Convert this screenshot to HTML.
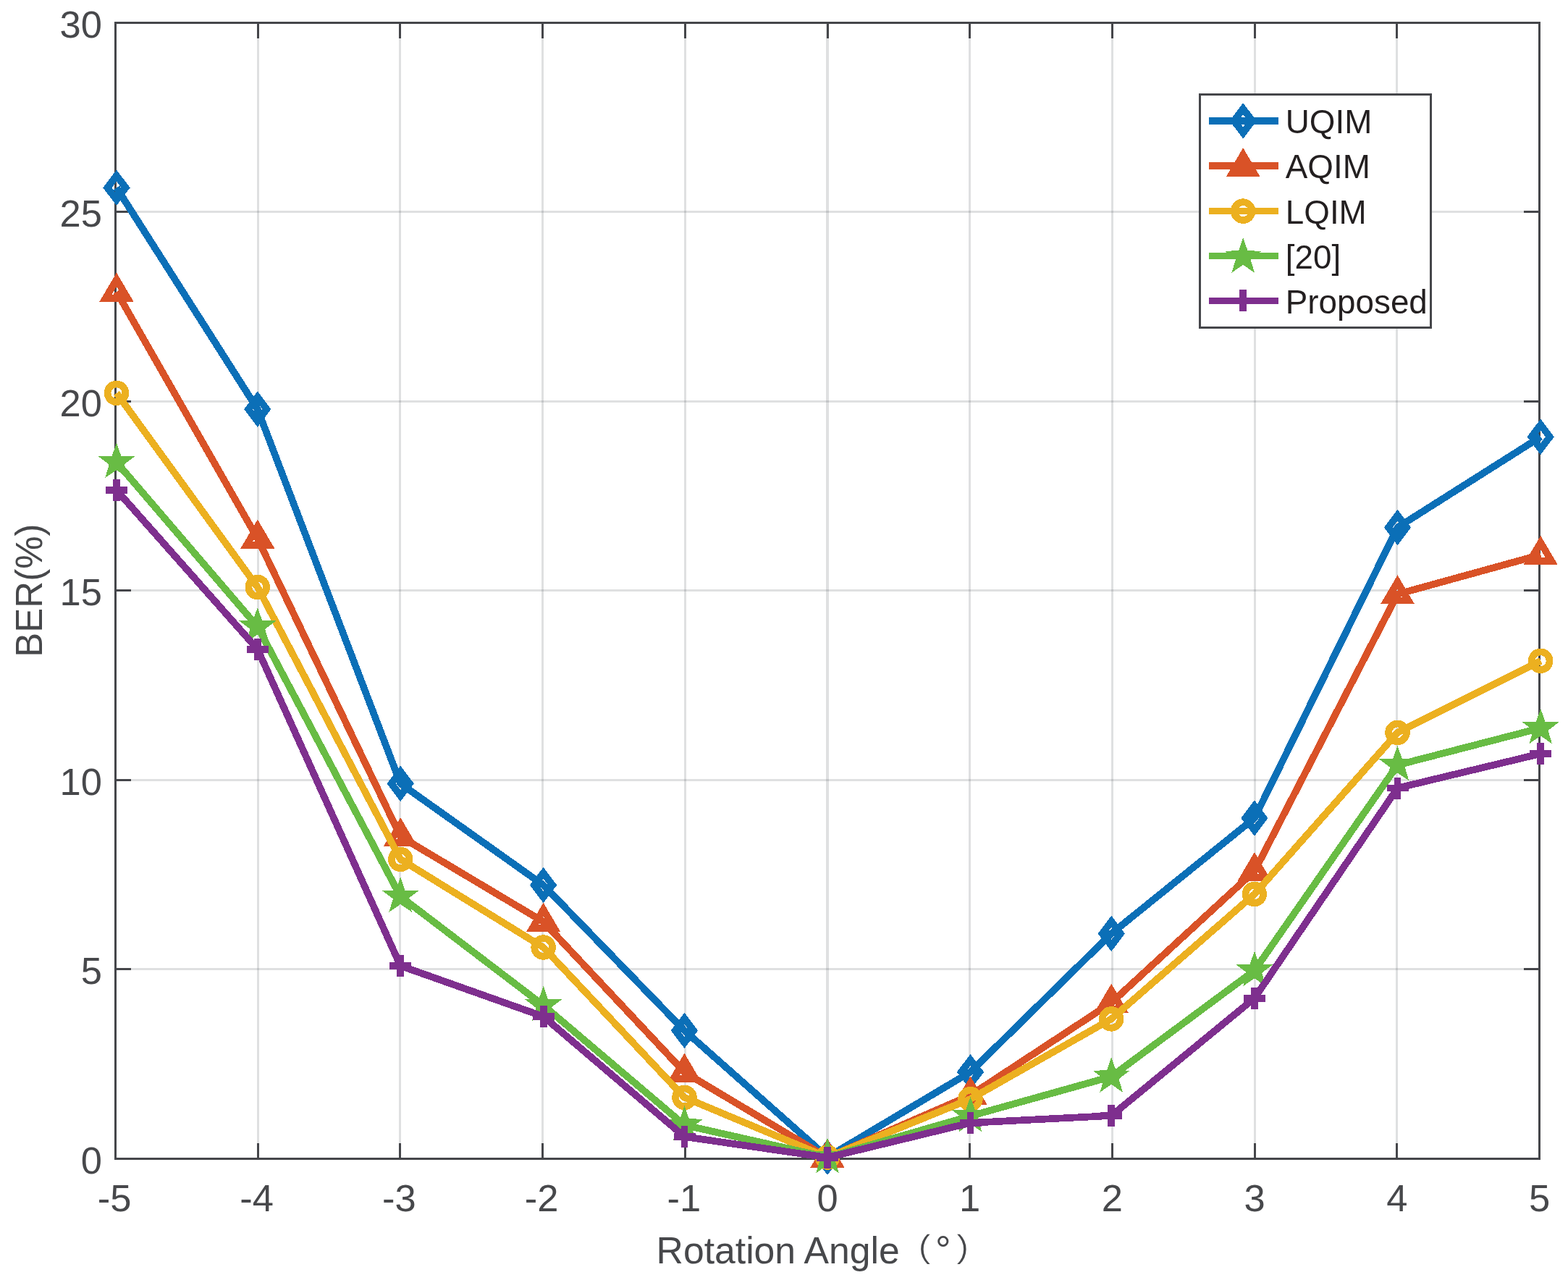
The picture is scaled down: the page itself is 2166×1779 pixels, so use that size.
<!DOCTYPE html>
<html><head><meta charset="utf-8"><title>BER vs Rotation Angle</title>
<style>
html,body{margin:0;padding:0;background:#fff;}
body{width:2166px;height:1779px;overflow:hidden;}
svg{display:block;font-family:"Liberation Sans","Noto Sans CJK SC",sans-serif;}
</style></head><body>
<svg width="2166" height="1779" viewBox="0 0 2166 1779">
<rect width="2166" height="1779" fill="#ffffff"/>
<path d="M356.5,33.0V1599.0M552.5,33.0V1599.0M749.5,33.0V1599.0M946.5,33.0V1599.0M1339.5,33.0V1599.0M1536.5,33.0V1599.0M1733.5,33.0V1599.0M1929.5,33.0V1599.0" stroke="#1f232b" stroke-opacity="0.14" stroke-width="3" fill="none" shape-rendering="crispEdges"/>
<path d="M1143,33.0V1599.0" stroke="#1f232b" stroke-opacity="0.14" stroke-width="4" fill="none" shape-rendering="crispEdges"/>
<path d="M161.0,1338.5H2125.0M161.0,1077.5H2125.0M161.0,815.5H2125.0M161.0,554.5H2125.0M161.0,292.5H2125.0" stroke="#1f232b" stroke-opacity="0.14" stroke-width="3" fill="none" shape-rendering="crispEdges"/>
<path d="M356.5,1600.5v-21.5M356.5,31.5v21.5M552.5,1600.5v-21.5M552.5,31.5v21.5M749.5,1600.5v-21.5M749.5,31.5v21.5M946.5,1600.5v-21.5M946.5,31.5v21.5M1143.5,1600.5v-21.5M1143.5,31.5v21.5M1339.5,1600.5v-21.5M1339.5,31.5v21.5M1536.5,1600.5v-21.5M1536.5,31.5v21.5M1733.5,1600.5v-21.5M1733.5,31.5v21.5M1929.5,1600.5v-21.5M1929.5,31.5v21.5M159.5,1338.5h21.5M2126.5,1338.5h-21.5M159.5,1077.5h21.5M2126.5,1077.5h-21.5M159.5,815.5h21.5M2126.5,815.5h-21.5M159.5,554.5h21.5M2126.5,554.5h-21.5M159.5,292.5h21.5M2126.5,292.5h-21.5" stroke="#45464a" stroke-width="3" fill="none" shape-rendering="crispEdges"/>
<rect x="159.5" y="31.5" width="1967.0" height="1569.0" fill="none" stroke="#45464a" stroke-width="3" shape-rendering="crispEdges"/>
<g stroke-linejoin="miter" shape-rendering="crispEdges">
<polyline points="161.0,259.3 355.8,565.2 553.2,1082.3 750.6,1222.5 945.5,1423.4 1143.0,1598.3 1340.5,1480.7 1535.2,1289.5 1732.9,1130.0 1930.5,728.5 2128.2,603.4" fill="none" stroke="#0b6fb7" stroke-width="9.7" stroke-linejoin="round"/>
<path d="M161.0,242.6L173.6,259.3L161.0,276.0L148.4,259.3Z" fill="none" stroke="#0b6fb7" stroke-width="9.7" stroke-miterlimit="10"/>
<path d="M355.8,548.5L368.4,565.2L355.8,581.9L343.2,565.2Z" fill="none" stroke="#0b6fb7" stroke-width="9.7" stroke-miterlimit="10"/>
<path d="M553.2,1065.6L565.8,1082.3L553.2,1099.0L540.6,1082.3Z" fill="none" stroke="#0b6fb7" stroke-width="9.7" stroke-miterlimit="10"/>
<path d="M750.6,1205.8L763.2,1222.5L750.6,1239.2L738.0,1222.5Z" fill="none" stroke="#0b6fb7" stroke-width="9.7" stroke-miterlimit="10"/>
<path d="M945.5,1406.7L958.1,1423.4L945.5,1440.1L932.9,1423.4Z" fill="none" stroke="#0b6fb7" stroke-width="9.7" stroke-miterlimit="10"/>
<path d="M1143.0,1581.6L1155.6,1598.3L1143.0,1615.0L1130.4,1598.3Z" fill="none" stroke="#0b6fb7" stroke-width="9.7" stroke-miterlimit="10"/>
<path d="M1340.5,1464.0L1353.1,1480.7L1340.5,1497.4L1327.9,1480.7Z" fill="none" stroke="#0b6fb7" stroke-width="9.7" stroke-miterlimit="10"/>
<path d="M1535.2,1272.8L1547.8,1289.5L1535.2,1306.2L1522.6,1289.5Z" fill="none" stroke="#0b6fb7" stroke-width="9.7" stroke-miterlimit="10"/>
<path d="M1732.9,1113.3L1745.5,1130.0L1732.9,1146.7L1720.3,1130.0Z" fill="none" stroke="#0b6fb7" stroke-width="9.7" stroke-miterlimit="10"/>
<path d="M1930.5,711.8L1943.1,728.5L1930.5,745.2L1917.9,728.5Z" fill="none" stroke="#0b6fb7" stroke-width="9.7" stroke-miterlimit="10"/>
<path d="M2128.2,586.7L2140.8,603.4L2128.2,620.1L2115.6,603.4Z" fill="none" stroke="#0b6fb7" stroke-width="9.7" stroke-miterlimit="10"/>
<polyline points="161.0,402.9 355.8,743.9 553.2,1155.4 750.6,1273.1 945.5,1481.0 1143.0,1598.9 1340.5,1512.8 1535.2,1385.0 1732.9,1203.3 1930.5,820.7 2128.2,766.2" fill="none" stroke="#d95227" stroke-width="9.7" stroke-linejoin="round"/>
<path d="M161.00,386.16L176.01,411.65L145.99,411.65Z" fill="none" stroke="#d95227" stroke-width="9.7" stroke-miterlimit="10"/>
<path d="M355.80,727.16L370.81,752.65L340.79,752.65Z" fill="none" stroke="#d95227" stroke-width="9.7" stroke-miterlimit="10"/>
<path d="M553.20,1138.66L568.21,1164.15L538.19,1164.15Z" fill="none" stroke="#d95227" stroke-width="9.7" stroke-miterlimit="10"/>
<path d="M750.60,1256.36L765.61,1281.85L735.59,1281.85Z" fill="none" stroke="#d95227" stroke-width="9.7" stroke-miterlimit="10"/>
<path d="M945.50,1464.26L960.51,1489.75L930.49,1489.75Z" fill="none" stroke="#d95227" stroke-width="9.7" stroke-miterlimit="10"/>
<path d="M1143.00,1582.16L1158.01,1607.65L1127.99,1607.65Z" fill="none" stroke="#d95227" stroke-width="9.7" stroke-miterlimit="10"/>
<path d="M1340.50,1496.06L1355.51,1521.55L1325.49,1521.55Z" fill="none" stroke="#d95227" stroke-width="9.7" stroke-miterlimit="10"/>
<path d="M1535.20,1368.26L1550.21,1393.75L1520.19,1393.75Z" fill="none" stroke="#d95227" stroke-width="9.7" stroke-miterlimit="10"/>
<path d="M1732.90,1186.56L1747.91,1212.05L1717.89,1212.05Z" fill="none" stroke="#d95227" stroke-width="9.7" stroke-miterlimit="10"/>
<path d="M1930.50,803.96L1945.51,829.45L1915.49,829.45Z" fill="none" stroke="#d95227" stroke-width="9.7" stroke-miterlimit="10"/>
<path d="M2128.20,749.46L2143.21,774.95L2113.19,774.95Z" fill="none" stroke="#d95227" stroke-width="9.7" stroke-miterlimit="10"/>
<polyline points="161.0,542.9 355.8,811.0 553.2,1186.9 750.6,1308.5 945.5,1515.8 1143.0,1598.5 1340.5,1518.0 1535.2,1407.4 1732.9,1235.0 1930.5,1011.9 2128.2,912.8" fill="none" stroke="#ecb020" stroke-width="9.7" stroke-linejoin="round"/>
<circle cx="161.0" cy="542.9" r="12.4" fill="none" stroke="#ecb020" stroke-width="9.7"/>
<circle cx="355.8" cy="811.0" r="12.4" fill="none" stroke="#ecb020" stroke-width="9.7"/>
<circle cx="553.2" cy="1186.9" r="12.4" fill="none" stroke="#ecb020" stroke-width="9.7"/>
<circle cx="750.6" cy="1308.5" r="12.4" fill="none" stroke="#ecb020" stroke-width="9.7"/>
<circle cx="945.5" cy="1515.8" r="12.4" fill="none" stroke="#ecb020" stroke-width="9.7"/>
<circle cx="1143.0" cy="1598.5" r="12.4" fill="none" stroke="#ecb020" stroke-width="9.7"/>
<circle cx="1340.5" cy="1518.0" r="12.4" fill="none" stroke="#ecb020" stroke-width="9.7"/>
<circle cx="1535.2" cy="1407.4" r="12.4" fill="none" stroke="#ecb020" stroke-width="9.7"/>
<circle cx="1732.9" cy="1235.0" r="12.4" fill="none" stroke="#ecb020" stroke-width="9.7"/>
<circle cx="1930.5" cy="1011.9" r="12.4" fill="none" stroke="#ecb020" stroke-width="9.7"/>
<circle cx="2128.2" cy="912.8" r="12.4" fill="none" stroke="#ecb020" stroke-width="9.7"/>
<polyline points="161.0,638.4 355.8,865.7 553.2,1238.2 750.6,1388.6 945.5,1554.0 1143.0,1598.5 1340.5,1541.5 1535.2,1487.0 1732.9,1340.5 1930.5,1056.7 2128.2,1005.6" fill="none" stroke="#68bc44" stroke-width="9.7" stroke-linejoin="round"/>
<polygon points="161.0,611.6 167.3,629.7 186.5,630.1 171.3,641.7 176.8,660.1 161.0,649.2 145.2,660.1 150.7,641.7 135.5,630.1 154.7,629.7" fill="#68bc44"/>
<polygon points="355.8,838.9 362.1,857.0 381.3,857.4 366.1,869.0 371.6,887.4 355.8,876.5 340.0,887.4 345.5,869.0 330.3,857.4 349.5,857.0" fill="#68bc44"/>
<polygon points="553.2,1211.4 559.5,1229.5 578.7,1229.9 563.5,1241.5 569.0,1259.9 553.2,1249.0 537.4,1259.9 542.9,1241.5 527.7,1229.9 546.9,1229.5" fill="#68bc44"/>
<polygon points="750.6,1361.8 756.9,1379.9 776.1,1380.3 760.9,1391.9 766.4,1410.3 750.6,1399.4 734.8,1410.3 740.3,1391.9 725.1,1380.3 744.3,1379.9" fill="#68bc44"/>
<polygon points="945.5,1527.2 951.8,1545.3 971.0,1545.7 955.8,1557.3 961.3,1575.7 945.5,1564.8 929.7,1575.7 935.2,1557.3 920.0,1545.7 939.2,1545.3" fill="#68bc44"/>
<polygon points="1143.0,1571.7 1149.3,1589.8 1168.5,1590.2 1153.3,1601.8 1158.8,1620.2 1143.0,1609.3 1127.2,1620.2 1132.7,1601.8 1117.5,1590.2 1136.7,1589.8" fill="#68bc44"/>
<polygon points="1340.5,1514.7 1346.8,1532.8 1366.0,1533.2 1350.8,1544.8 1356.3,1563.2 1340.5,1552.3 1324.7,1563.2 1330.2,1544.8 1315.0,1533.2 1334.2,1532.8" fill="#68bc44"/>
<polygon points="1535.2,1460.2 1541.5,1478.3 1560.7,1478.7 1545.5,1490.3 1551.0,1508.7 1535.2,1497.8 1519.4,1508.7 1524.9,1490.3 1509.7,1478.7 1528.9,1478.3" fill="#68bc44"/>
<polygon points="1732.9,1313.7 1739.2,1331.8 1758.4,1332.2 1743.2,1343.8 1748.7,1362.2 1732.9,1351.3 1717.1,1362.2 1722.6,1343.8 1707.4,1332.2 1726.6,1331.8" fill="#68bc44"/>
<polygon points="1930.5,1029.9 1936.8,1048.0 1956.0,1048.4 1940.8,1060.0 1946.3,1078.4 1930.5,1067.5 1914.7,1078.4 1920.2,1060.0 1905.0,1048.4 1924.2,1048.0" fill="#68bc44"/>
<polygon points="2128.2,978.8 2134.5,996.9 2153.7,997.3 2138.5,1008.9 2144.0,1027.3 2128.2,1016.4 2112.4,1027.3 2117.9,1008.9 2102.7,997.3 2121.9,996.9" fill="#68bc44"/>
<polyline points="161.0,677.0 355.8,896.8 553.2,1334.0 750.6,1404.0 945.5,1570.0 1143.0,1598.8 1340.5,1550.9 1535.2,1541.0 1732.9,1378.7 1930.5,1088.5 2128.2,1041.0" fill="none" stroke="#7e2f8e" stroke-width="9.7" stroke-linejoin="round"/>
<path d="M146.0,672.1h30.0v9.7h-30.0zM156.2,662.0h9.7v30.0h-9.7z" fill="#7e2f8e"/>
<path d="M340.8,891.9h30.0v9.7h-30.0zM350.9,881.8h9.7v30.0h-9.7z" fill="#7e2f8e"/>
<path d="M538.2,1329.2h30.0v9.7h-30.0zM548.4,1319.0h9.7v30.0h-9.7z" fill="#7e2f8e"/>
<path d="M735.6,1399.2h30.0v9.7h-30.0zM745.8,1389.0h9.7v30.0h-9.7z" fill="#7e2f8e"/>
<path d="M930.5,1565.2h30.0v9.7h-30.0zM940.6,1555.0h9.7v30.0h-9.7z" fill="#7e2f8e"/>
<path d="M1128.0,1594.0h30.0v9.7h-30.0zM1138.2,1583.8h9.7v30.0h-9.7z" fill="#7e2f8e"/>
<path d="M1325.5,1546.1h30.0v9.7h-30.0zM1335.7,1535.9h9.7v30.0h-9.7z" fill="#7e2f8e"/>
<path d="M1520.2,1536.2h30.0v9.7h-30.0zM1530.4,1526.0h9.7v30.0h-9.7z" fill="#7e2f8e"/>
<path d="M1717.9,1373.9h30.0v9.7h-30.0zM1728.1,1363.7h9.7v30.0h-9.7z" fill="#7e2f8e"/>
<path d="M1915.5,1083.7h30.0v9.7h-30.0zM1925.7,1073.5h9.7v30.0h-9.7z" fill="#7e2f8e"/>
<path d="M2113.2,1036.2h30.0v9.7h-30.0zM2123.3,1026.0h9.7v30.0h-9.7z" fill="#7e2f8e"/>
</g>
<rect x="1657.5" y="130.5" width="319" height="322" fill="#ffffff" stroke="#45464a" stroke-width="3" shape-rendering="crispEdges"/>
<line x1="1670" y1="166.9" x2="1766" y2="166.9" stroke="#0b6fb7" stroke-width="9.7" shape-rendering="crispEdges"/>
<path d="M1717.2,150.2L1729.8,166.9L1717.2,183.6L1704.6,166.9Z" fill="none" stroke="#0b6fb7" stroke-width="9.7" stroke-miterlimit="10" shape-rendering="crispEdges"/>
<text x="1775.8" y="184.3" font-size="45.8" fill="#231f20">UQIM</text>
<line x1="1670" y1="229.0" x2="1766" y2="229.0" stroke="#d95227" stroke-width="9.7" shape-rendering="crispEdges"/>
<path d="M1717.20,213.76L1732.21,239.25L1702.19,239.25Z" fill="#d95227" stroke="#d95227" stroke-width="9.7" stroke-miterlimit="10" shape-rendering="crispEdges"/>
<text x="1775.8" y="246.4" font-size="45.8" fill="#231f20">AQIM</text>
<line x1="1670" y1="291.6" x2="1766" y2="291.6" stroke="#ecb020" stroke-width="9.7" shape-rendering="crispEdges"/>
<circle cx="1717.2" cy="291.6" r="12.4" fill="none" stroke="#ecb020" stroke-width="9.7" shape-rendering="crispEdges"/>
<text x="1775.8" y="309.0" font-size="45.8" fill="#231f20">LQIM</text>
<line x1="1670" y1="353.5" x2="1766" y2="353.5" stroke="#68bc44" stroke-width="9.7" shape-rendering="crispEdges"/>
<polygon points="1717.2,328.2 1723.5,346.3 1742.7,346.7 1727.5,358.3 1733.0,376.7 1717.2,365.8 1701.4,376.7 1706.9,358.3 1691.7,346.7 1710.9,346.3" fill="#68bc44" shape-rendering="crispEdges"/>
<text x="1775.8" y="370.9" font-size="45.8" fill="#231f20">[20]</text>
<line x1="1670" y1="415.4" x2="1766" y2="415.4" stroke="#7e2f8e" stroke-width="9.7" shape-rendering="crispEdges"/>
<path d="M1702.2,410.5h30.0v9.7h-30.0zM1712.4,400.4h9.7v30.0h-9.7z" fill="#7e2f8e" shape-rendering="crispEdges"/>
<text x="1775.8" y="432.8" font-size="45.8" fill="#231f20">Proposed</text>
<text x="141.0" y="1620.7" font-size="52.5" text-anchor="end" fill="#47484b">0</text>
<text x="141.0" y="1359.2" font-size="52.5" text-anchor="end" fill="#47484b">5</text>
<text x="141.0" y="1097.7" font-size="52.5" text-anchor="end" fill="#47484b">10</text>
<text x="141.0" y="836.2" font-size="52.5" text-anchor="end" fill="#47484b">15</text>
<text x="141.0" y="574.7" font-size="52.5" text-anchor="end" fill="#47484b">20</text>
<text x="141.0" y="313.2" font-size="52.5" text-anchor="end" fill="#47484b">25</text>
<text x="141.0" y="51.7" font-size="52.5" text-anchor="end" fill="#47484b">30</text>
<text x="158.0" y="1672.6" font-size="52.5" text-anchor="middle" fill="#47484b">-5</text>
<text x="354.7" y="1672.6" font-size="52.5" text-anchor="middle" fill="#47484b">-4</text>
<text x="551.4" y="1672.6" font-size="52.5" text-anchor="middle" fill="#47484b">-3</text>
<text x="748.1" y="1672.6" font-size="52.5" text-anchor="middle" fill="#47484b">-2</text>
<text x="944.8" y="1672.6" font-size="52.5" text-anchor="middle" fill="#47484b">-1</text>
<text x="1143.0" y="1672.6" font-size="52.5" text-anchor="middle" fill="#47484b">0</text>
<text x="1339.7" y="1672.6" font-size="52.5" text-anchor="middle" fill="#47484b">1</text>
<text x="1536.4" y="1672.6" font-size="52.5" text-anchor="middle" fill="#47484b">2</text>
<text x="1733.1" y="1672.6" font-size="52.5" text-anchor="middle" fill="#47484b">3</text>
<text x="1929.8" y="1672.6" font-size="52.5" text-anchor="middle" fill="#47484b">4</text>
<text x="2126.5" y="1672.6" font-size="52.5" text-anchor="middle" fill="#47484b">5</text>
<text y="1745" font-size="51.7" fill="#47484b"><tspan x="906.6">Rotation Angle</tspan><tspan x="1242.1" y="1743.2" font-family="IPAGothic, 'Noto Sans CJK JP', sans-serif" font-size="46">（</tspan><tspan x="1291.9" y="1745" font-size="54">°</tspan><tspan x="1318.7" y="1743.2" font-family="IPAGothic, 'Noto Sans CJK JP', sans-serif" font-size="46">）</tspan></text>
<text transform="translate(57.9,815.6) rotate(-90)" x="0" y="0" font-size="51" text-anchor="middle" fill="#47484b">BER(%)</text>
</svg>
</body></html>
